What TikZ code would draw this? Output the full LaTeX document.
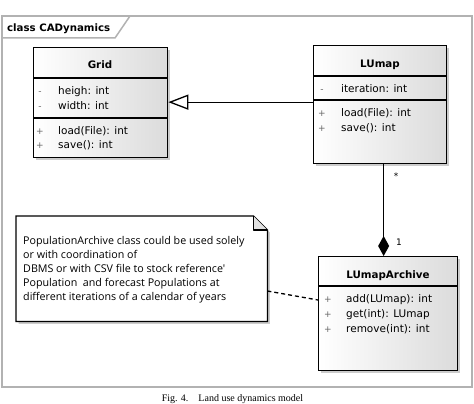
\documentclass[tikz,border=0pt]{standalone}
\usepackage{fontspec}
\setmainfont{DejaVu Sans}
\newfontfamily\notefont{Open Sans}
\newfontfamily\capfont{Liberation Serif}
\usetikzlibrary{arrows.meta,shadows}
\begin{document}
\begin{tikzpicture}[x=1pt,y=-1pt,
  frameline/.style={draw=black!30,line width=1.5pt},
  cls/.style={draw=black,line width=1.3pt,left color=white,right color=black!14,
    drop shadow={shadow xshift=2.5pt,shadow yshift=-2.5pt,fill=black!20,opacity=1},
    inner sep=0pt,anchor=north west},
  sepline/.style={draw=black,line width=1.3pt},
  clsname/.style={font=\bfseries\fontsize{10.3}{12}\selectfont,anchor=base,inner sep=0pt},
  member/.style={font=\fontsize{10.5}{12}\selectfont,anchor=base west,inner sep=0pt},
  vis/.style={font=\fontsize{9}{10}\selectfont,text=black!60,anchor=base,inner sep=0pt},
  notebox/.style={draw=black,line width=1.3pt,fill=white},
  notetext/.style={font=\notefont\fontsize{10.7}{14}\selectfont,align=left,anchor=north west,inner sep=0pt},
  mult/.style={font=\fontsize{9}{11}\selectfont,inner sep=0pt}
]
\useasboundingbox (0,0) rectangle (474,404);
\fill[white] (0,0) rectangle (474,404);

% frame
\draw[frameline] (2,16) rectangle (472,387);
\draw[frameline] (2,38) -- (115,38) -- (130,16);
\node[font=\bfseries\fontsize{10.2}{12}\selectfont,anchor=base west,inner sep=0pt] (title) at (7,31.5) {class CADynamics};

% Grid
\node[cls,minimum width=134pt,minimum height=110pt] (grid) at (33,47) {};
\draw[sepline] ([yshift=-31pt]grid.north west) -- ([yshift=-31pt]grid.north east);
\draw[sepline] ([yshift=-71pt]grid.north west) -- ([yshift=-71pt]grid.north east);
\node[clsname] (gridname) at (100,68.3) {Grid};
\node[vis] (gv1) at (40,94) {-};
\node[member] (ga1) at (58,94) {heigh: int};
\node[vis] (gv2) at (40,109) {-};
\node[member] (ga2) at (58,109) {width: int};
\node[vis] (gv3) at (40,134) {+};
\node[member] (gm1) at (58,134) {load(File): int};
\node[vis] (gv4) at (40,148.5) {+};
\node[member] (gm2) at (58,148.5) {save(): int};

% LUmap
\node[cls,minimum width=133pt,minimum height=118pt] (lumap) at (313,45) {};
\draw[sepline] ([yshift=-31pt]lumap.north west) -- ([yshift=-31pt]lumap.north east);
\draw[sepline] ([yshift=-55pt]lumap.north west) -- ([yshift=-55pt]lumap.north east);
\node[clsname] (lumapname) at (380,67.3) {LUmap};
\node[vis] (lv1) at (322,92.7) {-};
\node[member] (la1) at (341,92.7) {iteration: int};
\node[vis] (lv2) at (322,116) {+};
\node[member] (lm1) at (341,116) {load(File): int};
\node[vis] (lv3) at (322,131) {+};
\node[member] (lm2) at (341,131) {save(): int};

% LUmapArchive
\node[cls,minimum width=139pt,minimum height=114pt] (arch) at (318,256) {};
\draw[sepline] ([yshift=-30pt]arch.north west) -- ([yshift=-30pt]arch.north east);
\node[clsname] (archname) at (388,278) {LUmapArchive};
\node[vis] (av1) at (328,302.7) {+};
\node[member] (am1) at (346,302.7) {add(LUmap): int};
\node[vis] (av2) at (328,317.5) {+};
\node[member] (am2) at (346,317.5) {get(int): LUmap};
\node[vis] (av3) at (328,332.5) {+};
\node[member] (am3) at (346,332.5) {remove(int): int};

% generalization
\coordinate (g1) at ([yshift=2.5pt]lumap.west);
\draw[line width=1.3pt,-{Triangle[open,length=20pt,width=15pt,fill=white]}] (g1) -- (g1 -| grid.east);

% composition
\coordinate (c1) at ([xshift=3.5pt]lumap.south);
\draw[line width=1.3pt,{Diamond[length=20pt,width=11pt,fill=black]}-] (c1 |- arch.north) -- (c1);
\node[mult] (mstar) at (396,176) {*};
\node[mult] (mone) at (399,242) {1};

% note
\node[minimum width=251pt,minimum height=105pt,anchor=north west,inner sep=0pt] (note) at (16,216) {};
\fill[black!20] ([xshift=2.5pt,yshift=-2.5pt]note.north west) -- ([xshift=-11.5pt,yshift=-2.5pt]note.north east) -- ([xshift=2.5pt,yshift=-16.5pt]note.north east) -- ([xshift=2.5pt,yshift=-2.5pt]note.south east) -- ([xshift=2.5pt,yshift=-2.5pt]note.south west) -- cycle;
\draw[notebox] (note.north west) -- ([xshift=-14pt]note.north east) -- ([yshift=-14pt]note.north east) -- (note.south east) -- (note.south west) -- cycle;
\filldraw[fill=black!12,draw=black,line width=1.3pt,line join=round] ([xshift=-14pt]note.north east) -- ([xshift=-14pt,yshift=-14pt]note.north east) -- ([yshift=-14pt]note.north east);
\node[notetext] (notetxt) at (23,236) {PopulationArchive class could be used solely\\or with coordination of\\DBMS or with CSV file to stock reference'\\Population\ \ and forecast Populations at\\different iterations of a calendar of years};

% note link
\coordinate (n1) at (note.east |- 0,291);
\coordinate (n2) at (arch.west |- 0,300);
\draw[line width=1.3pt,dash pattern=on 4pt off 3pt] (n1) -- (n2);

% caption
\node[font=\capfont\fontsize{10}{12}\selectfont,anchor=base,inner sep=0pt] (cap) at (232.5,401.5) {Fig. 4.\quad Land use dynamics model};
\end{tikzpicture}
\end{document}
